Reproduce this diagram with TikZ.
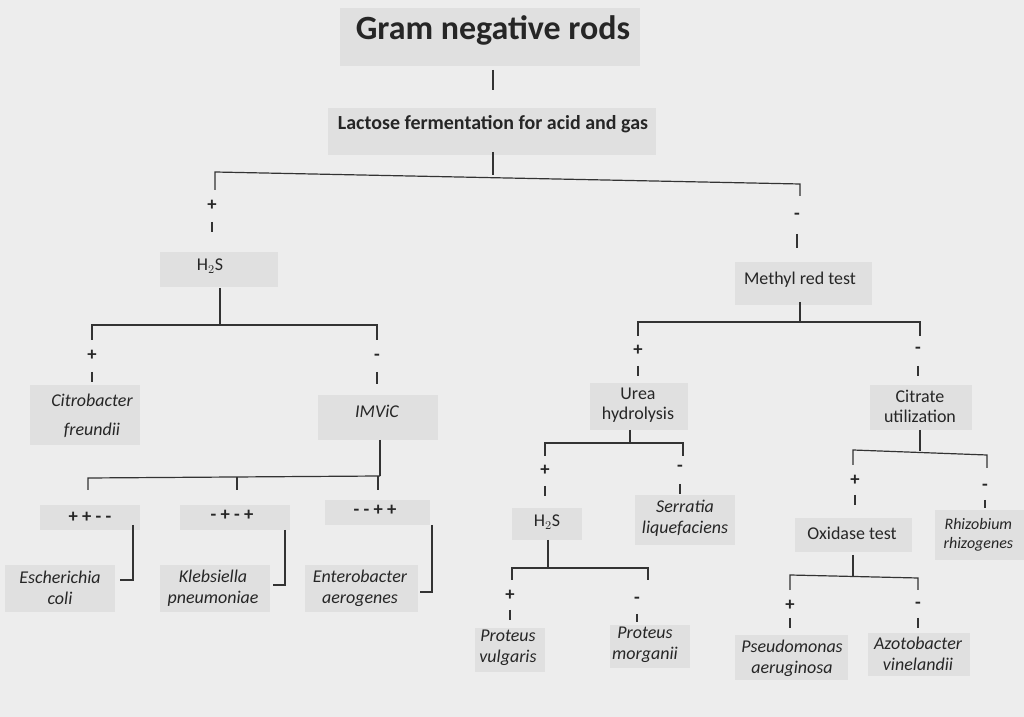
\documentclass[tikz,border=0pt]{standalone}
\usepackage{fontspec}
\setmainfont{Carlito}
\begin{document}
\begin{tikzpicture}[x=0.0264cm,y=-0.0264cm,
  lbl/.style={font=\fontsize{13.5}{15}\selectfont,text=black!85,inner sep=1pt,align=center},
  it/.style={lbl,font=\fontsize{13.5}{16}\selectfont\itshape},
  sg/.style={font=\fontsize{14}{15}\selectfont\bfseries,text=black!85},
  ln/.style={line width=0.9pt,black!80},
  hb/.style={fill=black!12,draw=none}]
\fill[black!7] (0,0) rectangle (1024,717);
\clip (0,0) rectangle (1024,717);
% shaded label boxes
\fill[hb] (340,8) rectangle (640,66);
\fill[hb] (328,108) rectangle (656,155);
\fill[hb] (160,252) rectangle (278,287);
\fill[hb] (735,262) rectangle (872,305);
\fill[hb] (30,385) rectangle (140,445);
\fill[hb] (318,395) rectangle (438,440);
\fill[hb] (590,383) rectangle (688,430);
\fill[hb] (870,385) rectangle (972,430);
\fill[hb] (512,508) rectangle (582,540);
\fill[hb] (635,495) rectangle (735,545);
\fill[hb] (795,518) rectangle (912,552);
\fill[hb] (935,510) rectangle (1024,560);
\fill[hb] (40,505) rectangle (140,530);
\fill[hb] (180,505) rectangle (290,530);
\fill[hb] (325,500) rectangle (430,525);
\fill[hb] (5,565) rectangle (115,612);
\fill[hb] (160,565) rectangle (270,612);
\fill[hb] (305,565) rectangle (418,612);
\fill[hb] (475,628) rectangle (545,672);
\fill[hb] (610,625) rectangle (690,668);
\fill[hb] (735,635) rectangle (848,680);
\fill[hb] (868,633) rectangle (970,676);

\node[font=\fontsize{25.5}{28}\selectfont\bfseries,text=black!85] (root) at (493,30) {Gram negative rods};
\node[font=\fontsize{15}{17}\selectfont\bfseries,text=black!85] (lac) at (493,124) {Lactose fermentation for acid and gas};
\draw[ln] (493,70) -- (493,90);
\draw[ln] (493,152) -- (493,175);
\draw[ln] (215,190) -- (215,172) -- (800,184) -- (800,196);

\node[sg] (p1) at (212,205) {+};
\draw[ln] (212,222) -- (212,232);
\node[lbl] (h2s1) at (210,266) {H$_2$S};
\node[sg] (m1) at (797,216) {-};
\draw[ln] (797,234) -- (797,248);
\node[lbl] (mr) at (800,280) {Methyl red test};

% H2S branch
\draw[ln] (220,288) -- (220,325);
\draw[ln] (92,340) -- (92,325) -- (377,325) -- (377,340);
\node[sg] at (92,355) {+};
\draw[ln] (92,372) -- (92,382);
\node[it] (cit) at (92,400) {Citrobacter};
\node[it] (fre) at (92,430) {freundii};
\node[sg] at (377,357) {-};
\draw[ln] (377,372) -- (377,384);
\node[it] (imv) at (377,411) {IMViC};

\draw[ln] (380,440) -- (380,476);
\draw[ln] (88,490) -- (88,478) -- (380,476);
\draw[ln] (237,490) -- (237,477);
\draw[ln] (378,476) -- (378,490);
\node[sg] at (90,517) {+ + - -};
\node[sg] at (232,515) {- + - +};
\node[sg] at (375,510) {- - + +};
\draw[ln] (133,525) -- (133,580) -- (120,580);
\draw[ln] (285,530) -- (285,585) -- (273,585);
\draw[ln] (432,525) -- (432,592) -- (420,592);
\node[it] (ec) at (60,588) {Escherichia\\coli};
\node[it] (kp) at (213,588) {Klebsiella\\pneumoniae};
\node[it] (ea) at (360,588) {Enterobacter\\aerogenes};

% Methyl red branch
\draw[ln] (800,302) -- (800,322);
\draw[ln] (638,336) -- (638,322) -- (920,322) -- (920,336);
\node[sg] at (638,350) {+};
\draw[ln] (638,366) -- (638,376);
\node[lbl] (urea) at (638,405) {Urea\\hydrolysis};
\node[sg] at (918,350) {-};
\draw[ln] (918,366) -- (918,376);
\node[lbl] (citr) at (920,406) {Citrate\\utilization};

\draw[ln] (630,430) -- (630,443);
\draw[ln] (545,456) -- (545,443) -- (683,443) -- (683,456);
\node[sg] at (545,470) {+};
\draw[ln] (545,486) -- (545,496);
\node[lbl] (h2s2) at (547,522) {H$_2$S};
\node[sg] at (680,468) {-};
\draw[ln] (680,484) -- (680,494);
\node[it] (ser) at (685,518) {Serratia\\liquefaciens};

\draw[ln] (548,540) -- (548,568);
\draw[ln] (512,580) -- (512,568) -- (648,568) -- (648,580);
\node[sg] at (510,595) {+};
\draw[ln] (510,610) -- (510,620);
\node[it] (pv) at (508,648) {Proteus\\vulgaris};
\node[sg] at (637,600) {-};
\draw[ln] (637,614) -- (637,622);
\node[it] (pm) at (645,645) {Proteus\\morganii};

\draw[ln] (920,430) -- (920,451);
\draw[ln] (853,465) -- (853,450) -- (987,455) -- (987,468);
\node[sg] at (855,480) {+};
\draw[ln] (855,495) -- (855,505);
\node[lbl] (ox) at (852,533) {Oxidase test};
\node[sg] at (985,487) {-};
\draw[ln] (985,500) -- (985,508);
\node[it,font=\fontsize{12}{14}\selectfont\itshape,anchor=west] (rh) at (942,535) {Rhizobium\\rhizogenes};

\draw[ln] (853,555) -- (853,576);
\draw[ln] (790,590) -- (790,575) -- (918,578) -- (918,590);
\node[sg] at (790,605) {+};
\draw[ln] (790,618) -- (790,628);
\node[it] (pa) at (792,658) {Pseudomonas\\aeruginosa};
\node[sg] at (918,605) {-};
\draw[ln] (918,618) -- (918,628);
\node[it] (av) at (918,654) {Azotobacter\\vinelandii};
\end{tikzpicture}
\end{document}
